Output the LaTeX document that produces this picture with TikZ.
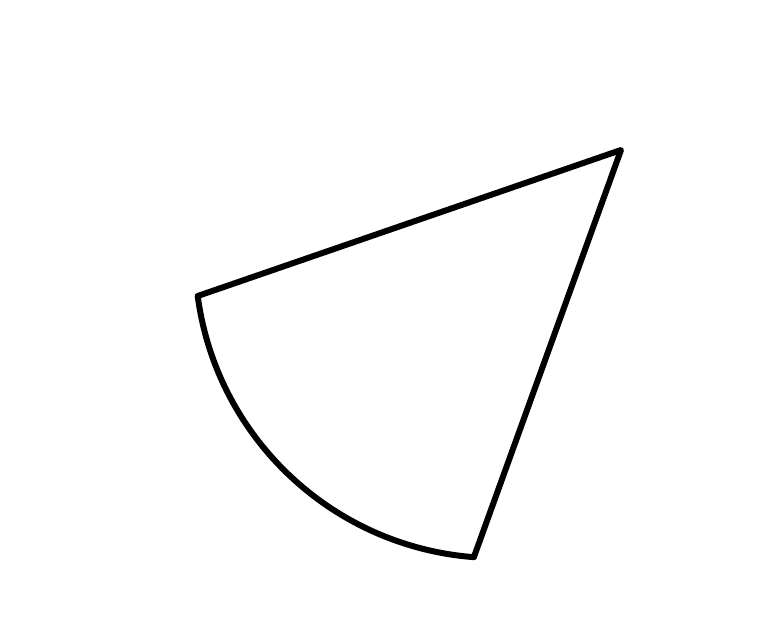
\documentclass[tikz,border=0pt]{standalone}
\begin{document}
\begin{tikzpicture}[x=1pt,y=-1pt,
  outline/.style={draw=black,line width=6pt,line join=round,line cap=round}]
\useasboundingbox (0,0) rectangle (768,643);
\coordinate (apex) at (621,150);
\coordinate (left) at (197.7,296);
\coordinate (ctr) at (497,256);
\draw[outline] (apex) -- (left) arc[start angle=-187.6, end angle=-265.6, radius=302] -- cycle;
\end{tikzpicture}
\end{document}
